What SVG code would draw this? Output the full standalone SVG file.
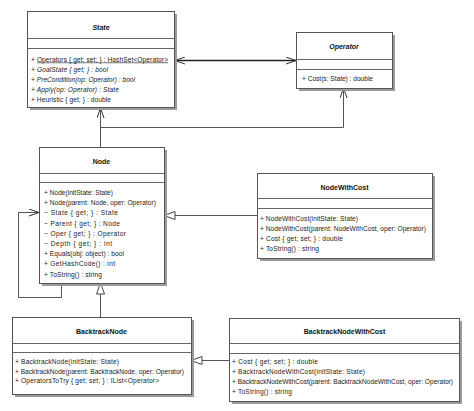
<svg xmlns="http://www.w3.org/2000/svg" width="474" height="411" viewBox="0 0 474 411">
<style>
.bg{fill:#fff}
.sh{fill:#9a9a9a}
.box{fill:#fff;stroke:#555;stroke-width:1}
.sep{stroke:#666;stroke-width:1}
.nm{font-family:"Liberation Sans",Arial,sans-serif;font-size:7px;font-weight:bold;fill:#111;text-anchor:middle}
.it{font-style:italic}
.r{font-family:"Liberation Sans",Arial,sans-serif;font-size:6.6px;fill:#222}
.conn{fill:none;stroke:#555;stroke-width:1}
.assoc2{fill:none;stroke:#222;stroke-width:1.6}
</style>
<defs>
<marker id="open" viewBox="0 0 10 8" refX="10" refY="4" markerWidth="10" markerHeight="8" orient="auto-start-reverse" markerUnits="userSpaceOnUse">
<path d="M0,0.5 L10,4 L0,7.5" fill="none" stroke="#333" stroke-width="1"/>
</marker>
<marker id="tri" viewBox="0 0 12 9" refX="11.5" refY="4.5" markerWidth="12" markerHeight="9" orient="auto" markerUnits="userSpaceOnUse">
<path d="M0.5,0.5 L11.5,4.5 L0.5,8.5 Z" fill="#fff" stroke="#444" stroke-width="1"/>
</marker>
</defs>
<rect class="bg" x="0" y="0" width="474" height="411"/>

<g id="connectors">
<path class="assoc2" d="M175,60.5 H296" marker-start="url(#open)" marker-end="url(#open)"/>
<path class="conn" d="M100.5,147 V108" marker-end="url(#open)"/>
<path class="conn" d="M100.5,127.5 H343.5 V88" marker-end="url(#open)"/>
<path class="conn" d="M61.5,283 V297.5 H18.5 V212.5 H39" marker-end="url(#open)"/>
<path class="conn" d="M257,215.5 H164" marker-end="url(#tri)"/>
<path class="conn" d="M100.5,317 V283" marker-end="url(#tri)"/>
<path class="conn" d="M229,360.5 H191" marker-end="url(#tri)"/>
</g>

<g id="State">
<rect class="sh" x="30" y="14" width="147" height="96"/>
<rect class="box" x="27.5" y="11.5" width="147" height="96"/>
<line class="sep" x1="27.5" y1="38.5" x2="174.5" y2="38.5"/>
<line class="sep" x1="27.5" y1="48.5" x2="174.5" y2="48.5"/>
<text class="nm it" x="101" y="29.5">State</text>
<text class="r" x="31" y="61.5" textLength="137">+ <tspan text-decoration="underline">Operators { get; set; } : HashSet&lt;Operator&gt;</tspan></text>
<text class="r it" x="31" y="71.5" textLength="77">+ GoalState { get; } : bool</text>
<text class="r it" x="31" y="81.5" textLength="104">+ PreCondition(op: Operator) : bool</text>
<text class="r it" x="31" y="91.5" textLength="88">+ Apply(op: Operator) : State</text>
<text class="r" x="31" y="101.5" textLength="80">+ Heuristic { get; } : double</text>
</g>

<g id="Operator">
<rect class="sh" x="299" y="35" width="96" height="56"/>
<rect class="box" x="296.5" y="32.5" width="96" height="56"/>
<line class="sep" x1="296.5" y1="59.5" x2="392.5" y2="59.5"/>
<line class="sep" x1="296.5" y1="69.5" x2="392.5" y2="69.5"/>
<text class="nm it" x="344" y="48.5">Operator</text>
<text class="r" x="302" y="80.5" textLength="71">+ Cost(s: State) : double</text>
</g>

<g id="Node">
<rect class="sh" x="42" y="150" width="125" height="136"/>
<rect class="box" x="39.5" y="147.5" width="125" height="136"/>
<line class="sep" x1="39.5" y1="173.5" x2="164.5" y2="173.5"/>
<line class="sep" x1="39.5" y1="182.5" x2="164.5" y2="182.5"/>
<text class="nm" x="101.5" y="163.5">Node</text>
<text class="r" x="44" y="195" textLength="69">+ Node(initState: State)</text>
<text class="r" x="44" y="205.2" textLength="112">+ Node(parent: Node, oper: Operator)</text>
<text class="r" x="44" y="215.4" textLength="74">~ State { get; } : State</text>
<text class="r" x="44" y="225.6" textLength="76">~ Parent { get; } : Node</text>
<text class="r" x="44" y="235.8" textLength="82">~ Oper { get; } : Operator</text>
<text class="r" x="44" y="246" textLength="68">~ Depth { get; } : int</text>
<text class="r" x="44" y="256.2" textLength="80">+ Equals(obj: object) : bool</text>
<text class="r" x="44" y="266.4" textLength="71">+ GetHashCode() : int</text>
<text class="r" x="44" y="276.6" textLength="58">+ ToString() : string</text>
</g>

<g id="NodeWithCost">
<rect class="sh" x="260" y="176" width="175" height="85"/>
<rect class="box" x="257.5" y="173.5" width="175" height="85"/>
<line class="sep" x1="257.5" y1="198.5" x2="432.5" y2="198.5"/>
<line class="sep" x1="257.5" y1="208.5" x2="432.5" y2="208.5"/>
<text class="nm" x="344.5" y="189.5">NodeWithCost</text>
<text class="r" x="260" y="221" textLength="98">+ NodeWithCost(initState: State)</text>
<text class="r" x="260" y="231" textLength="166">+ NodeWithCost(parent: NodeWithCost, oper: Operator)</text>
<text class="r" x="260" y="241" textLength="83">+ Cost { get; set; } : double</text>
<text class="r" x="260" y="251" textLength="59">+ ToString() : string</text>
</g>

<g id="BacktrackNode">
<rect class="sh" x="15" y="320" width="179" height="77"/>
<rect class="box" x="12.5" y="317.5" width="179" height="77"/>
<line class="sep" x1="12.5" y1="343.5" x2="191.5" y2="343.5"/>
<line class="sep" x1="12.5" y1="352.5" x2="191.5" y2="352.5"/>
<text class="nm" x="101.5" y="333.5">BacktrackNode</text>
<text class="r" x="15" y="364" textLength="104">+ BacktrackNode(initState: State)</text>
<text class="r" x="15" y="373.5" textLength="169">+ BacktrackNode(parent: BacktrackNode, oper: Operator)</text>
<text class="r" x="15" y="383" textLength="144">+ OperatorsToTry { get; set; } : IList&lt;Operator&gt;</text>
</g>

<g id="BacktrackNodeWithCost">
<rect class="sh" x="232" y="321" width="230" height="83"/>
<rect class="box" x="229.5" y="318.5" width="230" height="83"/>
<line class="sep" x1="229.5" y1="343.5" x2="459.5" y2="343.5"/>
<line class="sep" x1="229.5" y1="353.5" x2="459.5" y2="353.5"/>
<text class="nm" x="344.5" y="333.5">BacktrackNodeWithCost</text>
<text class="r" x="232" y="364" textLength="86">+ Cost { get; set; } : double</text>
<text class="r" x="232" y="374" textLength="133">+ BacktrackNodeWithCost(initState: State)</text>
<text class="r" x="232" y="384" textLength="221">+ BacktrackNodeWithCost(parent: BacktrackNodeWithCost, oper: Operator)</text>
<text class="r" x="232" y="394" textLength="60">+ ToString() : string</text>
</g>
</svg>
